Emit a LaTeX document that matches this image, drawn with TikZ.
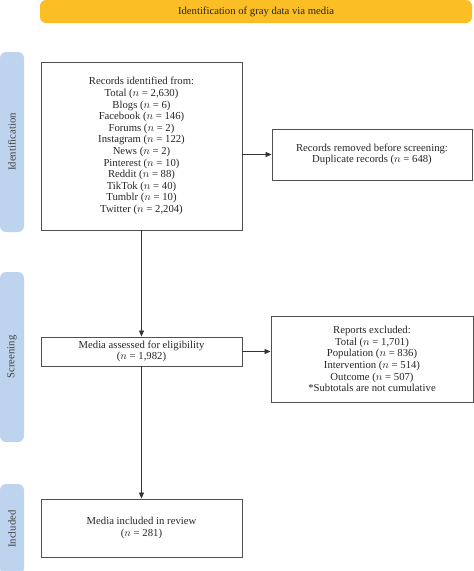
\documentclass[tikz,border=0pt]{standalone}
\usepackage{fontspec}
\setmainfont{Liberation Serif}
\usetikzlibrary{arrows.meta}
\definecolor{gold}{RGB}{251,190,36}
\definecolor{sidebl}{RGB}{190,212,238}
\definecolor{boxline}{RGB}{80,80,80}
\begin{document}
\begin{tikzpicture}[x=1pt,y=-1pt,
  every node/.style={font=\fontsize{10.7}{11.6}\selectfont, text=black!85},
  flowbox/.style={draw=boxline, line width=0.9pt, align=center, inner sep=0pt},
  sidebar/.style={fill=sidebl, rounded corners=6pt, draw=none},
  conn/.style={draw=black!80, line width=0.8pt, -{Triangle[length=6pt,width=5pt]}}]
\useasboundingbox (0,0) rectangle (474,571);
% header
\node[fill=gold, rounded corners=6pt, minimum width=432pt, minimum height=23pt, inner sep=0pt] (hdr) at (256,11.5) {Identification of gray data via media};
% side bars
\node[sidebar, minimum width=24pt, minimum height=180pt, inner sep=0pt] (sid) at (12,142) {};
\node[rotate=90, text=black!75] (sidt) at (sid.center) {Identification};
\node[sidebar, minimum width=24pt, minimum height=170pt, inner sep=0pt] (sscr) at (12,357) {};
\node[rotate=90, text=black!75] (sscrt) at (sscr.center) {Screening};
\node[sidebar, minimum width=24pt, minimum height=90pt, inner sep=0pt] (sinc) at (12,529) {};
\node[rotate=90, text=black!75] (sinct) at (sinc.center) {Included};
% boxes
\node[flowbox, minimum width=201pt, minimum height=168pt] (rec) at (141.5,146) {Records identified from:\\
Total ($n$ = 2,630)\\ Blogs ($n$ = 6)\\ Facebook ($n$ = 146)\\ Forums ($n$ = 2)\\ Instagram ($n$ = 122)\\ News ($n$ = 2)\\ Pinterest ($n$ = 10)\\ Reddit ($n$ = 88)\\ TikTok ($n$ = 40)\\ Tumblr ($n$ = 10)\\ Twitter ($n$ = 2,204)};
\node[flowbox, minimum width=200pt, minimum height=51pt] (rem) at (372,154.5) {Records removed before screening:\\ Duplicate records ($n$ = 648)};
\node[flowbox, minimum width=201pt, minimum height=29pt] (ass) at (141.5,351.5) {Media assessed for eligibility\\ ($n$ = 1,982)};
\node[flowbox, minimum width=202pt, minimum height=86pt] (exc) at (372,359) {Reports excluded:\\ Total ($n$ = 1,701)\\ Population ($n$ = 836)\\ Intervention ($n$ = 514)\\ Outcome ($n$ = 507)\\ *Subtotals are not cumulative};
\node[flowbox, minimum width=201pt, minimum height=58pt] (inc) at (141.5,528) {Media included in review\\ ($n$ = 281)};
% connectors
\coordinate (j1) at (rec.east |- rem.west);
\draw[conn] (j1) -- (rem.west);
\draw[conn] (rec.south) -- (ass.north);
\draw[conn] (ass.east) -- (exc.west |- ass.east);
\draw[conn] (ass.south) -- (inc.north);
\end{tikzpicture}
\end{document}
